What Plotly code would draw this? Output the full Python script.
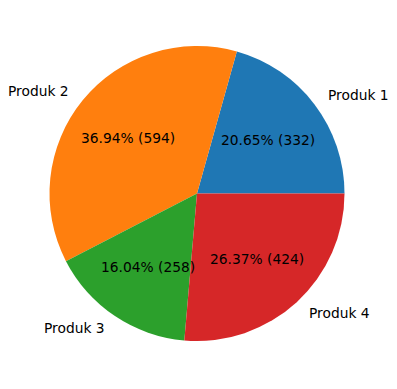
import math
import plotly.graph_objects as go

labels = ["Produk 1", "Produk 2", "Produk 3", "Produk 4"]
values = [332, 594, 258, 424]
colors = ["#1f77b4", "#ff7f0e", "#2ca02c", "#d62728"]

W, H = 397, 389
cx, cy, r = 197, 193.5, 147.5  # pixel center (from top) and radius

xd = [(cx - r) / W, (cx + r) / W]
yd = [(H - cy - r) / H, (H - cy + r) / H]

total = sum(values)
fig = go.Figure(go.Pie(
    labels=labels, values=values, sort=False, direction="counterclockwise",
    rotation=90 - 360 * values[0] / total,
    marker=dict(colors=colors, line=dict(width=0)),
    textinfo="none", hoverinfo="label+value+percent", showlegend=False,
    domain=dict(x=xd, y=yd),
))

font = dict(family="DejaVu Sans", size=13.8, color="black")
ann = []
start = 0.0
for lab, v in zip(labels, values):
    frac = v / total
    mid = (start + frac / 2) * 2 * math.pi
    start += frac
    c, s = math.cos(mid), math.sin(mid)
    lx = (cx + 1.1 * r * c) / W
    ly = (H - cy + 1.1 * r * s) / H
    ann.append(dict(x=lx, y=ly, xref="paper", yref="paper", text=lab, showarrow=False,
                    xanchor="left" if c > 0 else "right", yanchor="middle", font=font))
    px = (cx + 0.6 * r * c) / W
    py = (H - cy + 0.6 * r * s) / H
    ann.append(dict(x=px, y=py, xref="paper", yref="paper",
                    text=f"{frac*100:.2f}% ({v})", showarrow=False,
                    xanchor="center", yanchor="middle", font=font))

fig.update_layout(width=W, height=H, margin=dict(l=0, r=0, t=0, b=0),
                  paper_bgcolor="white", plot_bgcolor="white", annotations=ann)
fig.write_html("out.html")
